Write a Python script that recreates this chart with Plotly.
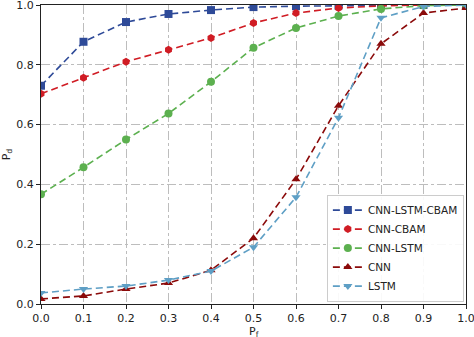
import plotly.graph_objects as go

pf = [0.0, 0.1, 0.2, 0.3, 0.4, 0.5, 0.6, 0.7, 0.8, 0.9, 1.0]
cnn_lstm_cbam = [0.730, 0.877, 0.943, 0.970, 0.983, 0.993, 0.996, 0.998, 1.0, 1.0, 1.0]
cnn_cbam = [0.703, 0.757, 0.810, 0.850, 0.890, 0.940, 0.973, 0.990, 0.997, 1.0, 1.0]
cnn_lstm = [0.367, 0.457, 0.550, 0.637, 0.743, 0.857, 0.923, 0.963, 0.987, 0.998, 1.0]
cnn = [0.017, 0.027, 0.050, 0.070, 0.113, 0.220, 0.417, 0.663, 0.870, 0.973, 0.990]
lstm = [0.037, 0.050, 0.060, 0.080, 0.110, 0.190, 0.357, 0.623, 0.957, 0.995, 1.0]

series = [
    ("CNN-LSTM-CBAM", cnn_lstm_cbam, "#2e4a98", "square", 8),
    ("CNN-CBAM", cnn_cbam, "#d01c24", "hexagon", 8),
    ("CNN-LSTM", cnn_lstm, "#5cb04f", "circle", 8),
    ("CNN", cnn, "#8b0a0a", "triangle-up", 8),
    ("LSTM", lstm, "#5e9fc5", "triangle-down", 8),
]

fig = go.Figure()
for name, ys, color, sym, sz in series:
    fig.add_trace(go.Scatter(
        x=pf, y=ys, name=name, mode="lines+markers",
        line=dict(color=color, width=1.6, dash="7px,4px"),
        marker=dict(symbol=sym, size=sz, color=color),
    ))

axis_common = dict(
    showline=True, linecolor="#222", linewidth=1.2, mirror=True,
    ticks="outside", ticklen=4, tickcolor="#222", tickwidth=1,
    showgrid=True, gridcolor="#bdbdbd", gridwidth=1, griddash="dashdot",
    zeroline=False, ticklabeloverflow="allow", automargin=False,
    tickfont=dict(size=11, color="#222", family="DejaVu Sans"),
)

fig.update_layout(
    width=474, height=337,
    margin=dict(l=41, r=8, t=5, b=33),
    plot_bgcolor="white", paper_bgcolor="white",
    font=dict(family="DejaVu Sans", size=11, color="#222"),
    xaxis=dict(range=[0, 1.0], tickvals=pf, ticktext=[f"{v:.1f}" for v in pf], **axis_common),
    yaxis=dict(range=[0, 1.0], tickvals=[0, 0.2, 0.4, 0.6, 0.8, 1.0],
               ticktext=["0.0", "0.2", "0.4", "0.6", "0.8", "1.0"],
               title=dict(text="P<sub>d</sub>", standoff=6, font=dict(size=11)), **axis_common),
    legend=dict(x=0.995, y=0.008, xanchor="right", yanchor="bottom",
                bordercolor="#cccccc", borderwidth=1, bgcolor="rgba(255,255,255,0.9)",
                font=dict(size=10.5), tracegroupgap=0, itemwidth=30),
    showlegend=True,
    annotations=[dict(text="P<sub>f</sub>", xref="paper", yref="paper", x=0.5, y=0,
                      xanchor="center", yanchor="top", yshift=-19, showarrow=False,
                      font=dict(size=11, color="#222"))],
)

fig.write_html("out.html")
